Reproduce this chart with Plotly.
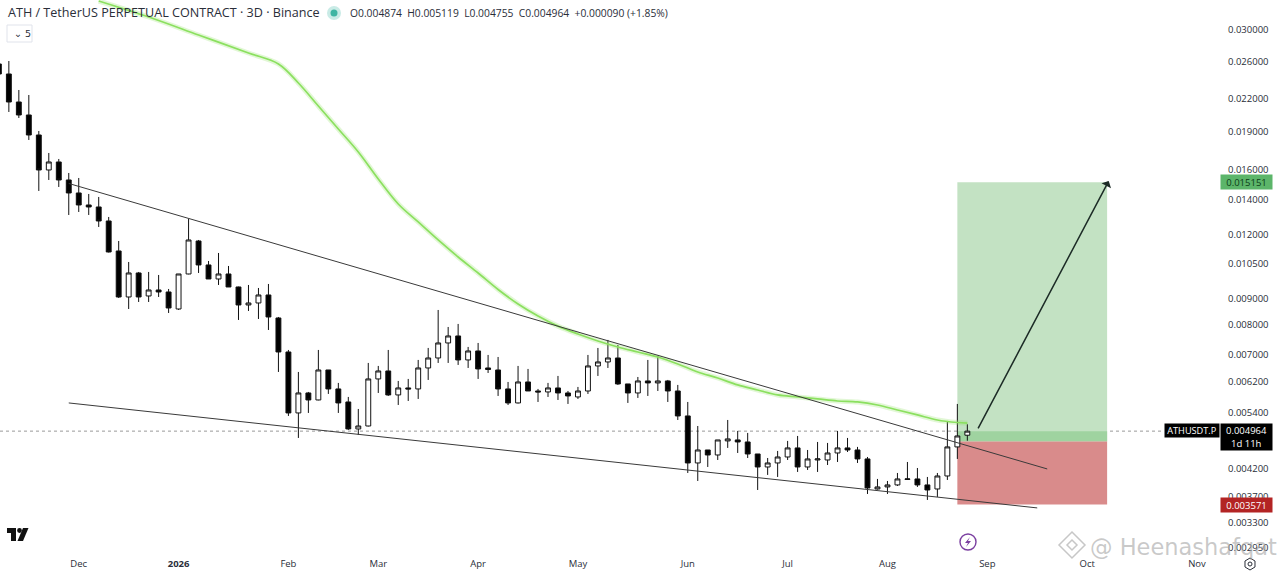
import math

import pandas as pd
import plotly.graph_objects as go

# 3D candles
dates = pd.date_range('2025-11-08', periods=98, freq='3D')

opens = [
    .025758, .024628, .021722, .020492, .018734, .016013, .016598, .015311, .014444, .013688,
    .013565, .012740, .011136, .009060, .010090, .009101, .009349, .009266, .008585, .010045,
    .011647, .010459, .009822, .010045, .009476, .008741, .008820, .009142, .008246, .007080,
    .005386, .005891, .005709, .006531, .005998, .005658, .005013, .005080, .006273, .006502,
    .005839, .006025, .005998, .006590, .006892, .007372, .007607, .006831, .007112, .006590,
    .006531, .005998, .005633, .006189, .005944, .005918, .006025, .005891, .005787, .005944,
    .006650, .006770, .006892, .006134, .005891, .006217, .006162, .006217, .005944, .005314,
    .004304, .004562, .004461, .004751, .004772, .004729, .004481, .004227, .004304, .004421,
    .004604, .004227, .004362, .004362, .004501, .004604, .004562, .004382, .003830, .003865,
    .003900, .003997, .004006, .003900, .003830, .004060, .004625, .004874,
]
highs = [
    .026224, .026107, .022923, .022415, .019073, .017282, .016823, .015799, .015449, .014380,
    .014188, .012970, .011647, .010600, .010136, .010136, .010000, .009391, .010045, .012855,
    .011699, .010648, .011037, .010412, .009490, .009561, .009433, .009604, .008283, .007144,
    .006473, .005918, .007144, .006531, .006162, .005787, .005483, .006740, .006650, .007144,
    .006217, .006273, .006831, .007209, .008547, .007920, .008028, .007241, .007372, .006986,
    .006923, .006189, .006650, .006561, .005998, .006162, .006358, .005944, .006052, .006986,
    .007209, .007472, .007306, .006134, .006329, .006831, .006954, .006245, .006107, .005658,
    .005080, .004562, .004772, .005219, .004969, .004924, .004481, .004401, .004542, .004751,
    .004858, .004562, .004729, .004708, .004969, .004815, .004625, .004421, .004006, .003970,
    .004115, .004323, .004208, .004042, .004115, .005196, .005608, .005119,
]
lows = [
    .024409, .020770, .020218, .018319, .014575, .015311, .014838, .013087, .013264, .013087,
    .012402, .011060, .009020, .008585, .008859, .008859, .009060, .008433, .008547, .010030,
    .010090, .009822, .009561, .009476, .008173, .008509, .008209, .007814, .006473, .005314,
    .004815, .005386, .005700, .005865, .005386, .004991, .004880, .005070, .005891, .005813,
    .005582, .005683, .005735, .006245, .006740, .006740, .006680, .006590, .006273, .006444,
    .005813, .005582, .005620, .005944, .005658, .005787, .005709, .005608, .005735, .005865,
    .006358, .006590, .006107, .005633, .005761, .005813, .005944, .005658, .005219, .004115,
    .003970, .004227, .004362, .004604, .004501, .004401, .003813, .004079, .004042, .004362,
    .004134, .004171, .004134, .004265, .004323, .004521, .004304, .003745, .003820, .003745,
    .003882, .003988, .003865, .003646, .003695, .003988, .004382, .004755,
]
closes = [
    .024628, .021722, .020492, .018734, .016013, .016598, .015311, .014444, .013688, .013565,
    .012740, .011086, .009060, .010090, .009060, .009349, .009266, .008624, .010045, .011699,
    .010459, .009822, .010045, .009476, .008741, .008820, .009142, .008283, .007080, .005386,
    .005891, .005709, .006531, .005998, .005633, .005013, .005080, .006273, .006502, .005839,
    .006025, .005998, .006590, .006892, .007372, .007607, .006831, .007112, .006561, .006545,
    .005998, .005633, .006189, .005944, .005918, .006025, .005891, .005813, .005944, .006650,
    .006770, .006892, .006134, .005891, .006217, .006162, .006217, .005944, .005314, .004304,
    .004562, .004461, .004772, .004794, .004729, .004481, .004227, .004304, .004421, .004604,
    .004227, .004382, .004382, .004501, .004604, .004562, .004382, .003847, .003865, .003900,
    .004006, .004006, .003900, .003813, .004060, .004625, .004858, .004964,
]

# green moving average, sampled every couple of bars
ema_bars = [10, 15, 20, 25, 28, 30, 32, 34, 36, 38, 40, 42, 44, 46, 48, 50, 52, 54, 56, 58, 60, 62,
            64, 66, 68, 70, 72, 74, 76, 78, 80, 82, 84, 86, 88, 90, 92, 94, 96, 97]
ema_values = [.034167, .031800, .029335, .027061, .025758, .023654, .021336, .019245, .017360, .015380,
              .013749, .012683, .011699, .010840, .010090, .009370, .008780, .008320, .007950, .007675,
              .007439, .007241, .007080, .006923, .006710, .006473, .006301, .006107, .005971, .005839,
              .005787, .005735, .005683, .005658, .005582, .005459, .005338, .005219, .005160, .005145]

# drawn trend lines
upper_x = ['2025-11-29', '2026-09-19']
upper_y = [.015073, .004190]
lower_x = ['2025-11-29', '2026-09-16']
lower_y = [.005633, .003518]

# long position tool
box_x = ['2026-08-23', '2026-10-07']
target = .015151
entry = .004740
stop = .003571
last_price = .004964
arrow_x = ['2026-08-29', '2026-10-07 12:00']
arrow_y = [.004991, .015243]

price_ticks = [.030, .026, .022, .019, .016, .014, .012, .0105, .009, .008, .007,
               .0062, .0054, .0042, .0037, .0033, .00295]
date_ticks = ['2025-12-02', '2026-01-01', '2026-02-03', '2026-03-02', '2026-04-01', '2026-05-01',
              '2026-06-03', '2026-07-03', '2026-08-02', '2026-09-01', '2026-10-01', '2026-11-03']
date_labels = ['Dec', '<b>2026</b>', 'Feb', 'Mar', 'Apr', 'May', 'Jun', 'Jul', 'Aug', 'Sep', 'Oct', 'Nov']

W = 1280
H = 572
PLOT_W = 1215
PLOT_H = 552
FONT = 'Open Sans'
TEXT = '#2a2e39'


def px(x):
    return x / PLOT_W


def py(y):
    return 1 - y / PLOT_H


def path(points):
    return 'M ' + ' L '.join('%.5f,%.5f' % (px(x), py(y)) for x, y in points) + ' Z'


def paper_shape(kind, **kw):
    return dict(type=kind, xref='paper', yref='paper', **kw)


def circle(x, y, r, **kw):
    return paper_shape('circle', x0=px(x - r), x1=px(x + r), y0=py(y - r), y1=py(y + r), **kw)


def label(x, y, text, size=10, color=TEXT, **kw):
    return dict(xref='paper', yref='paper', x=px(x), y=py(y), text=text, showarrow=False,
                xanchor=kw.pop('xanchor', 'left'), yanchor='middle',
                font=dict(family=kw.pop('family', FONT), size=size, color=color), **kw)


def badge(x, y, w, h, text, bg, color):
    return label(x, y, text, size=9.5, color=color, bgcolor=bg, width=w, height=h,
                 align='center', borderpad=0)


fig = go.Figure()

fig.add_trace(go.Scatter(x=[dates[i] for i in ema_bars], y=ema_values, mode='lines',
                         line=dict(color='rgba(140,225,90,0.25)', width=5, shape='spline'),
                         hoverinfo='skip'))
fig.add_trace(go.Scatter(x=[dates[i] for i in ema_bars], y=ema_values, mode='lines',
                         line=dict(color='#8be05f', width=1.7, shape='spline'),
                         hoverinfo='skip'))
fig.add_trace(go.Scatter(x=upper_x, y=upper_y, mode='lines', line=dict(color='#3a3a3a', width=1)))
fig.add_trace(go.Scatter(x=lower_x, y=lower_y, mode='lines', line=dict(color='#3a3a3a', width=1)))

fig.add_trace(go.Candlestick(
    x=dates, open=opens, high=highs, low=lows, close=closes,
    increasing=dict(line=dict(color='#111111', width=1), fillcolor='#ffffff'),
    decreasing=dict(line=dict(color='#111111', width=1), fillcolor='#000000'),
))

shapes = [
    dict(type='rect', xref='x', yref='y', x0=box_x[0], x1=box_x[1], y0=entry, y1=target,
         fillcolor='#c3e2c3', line_width=0, layer='below'),
    dict(type='rect', xref='x', yref='y', x0=box_x[0], x1=box_x[1], y0=entry, y1=last_price,
         fillcolor='#9fd3a0', line_width=0, layer='below'),
    dict(type='rect', xref='x', yref='y', x0=box_x[0], x1=box_x[1], y0=stop, y1=entry,
         fillcolor='#d98b8b', line_width=0, layer='below'),
    dict(type='line', xref='paper', yref='y', x0=0, x1=px(1164), y0=last_price, y1=last_price,
         line=dict(color='#9a9a9a', width=1, dash='dot'), layer='below'),
    # legend status dot
    circle(334, 13, 7, fillcolor='#c9ebe6', line_width=0),
    circle(334, 13, 3.5, fillcolor='#3fb5a3', line_width=0),
    # indicator toggle button
    paper_shape('rect', x0=px(7), x1=px(32), y0=py(25), y1=py(42), line=dict(color='#e0e3eb', width=1)),
    # logo
    paper_shape('path', path=path([(7, 528), (16, 528), (16, 541), (11, 541), (11, 533), (7, 533)]),
                fillcolor='#111111', line_width=0),
    circle(19.5, 530.5, 2.4, fillcolor='#111111', line_width=0),
    paper_shape('path', path=path([(23, 528), (28.5, 528), (23, 541), (17.5, 541)]),
                fillcolor='#111111', line_width=0),
    # bolt icon
    circle(968, 542, 8, line=dict(color='#7b3fa0', width=1.4)),
    paper_shape('path', path=path([(970, 537), (965, 543), (968, 543), (966, 547), (971, 541), (968, 541)]),
                fillcolor='#7b3fa0', line_width=0),
    # settings icon
    paper_shape('path', path=path([(1250, 558), (1255, 561), (1255, 567), (1250, 570), (1245, 567), (1245, 561)]),
                line=dict(color='#2a2e39', width=1)),
    circle(1250, 564, 2, line=dict(color='#2a2e39', width=1)),
    # watermark diamond
    paper_shape('path', path=path([(1072, 532), (1085, 545), (1072, 558), (1059, 545)]),
                line=dict(color='rgba(175,175,175,0.7)', width=1.5)),
    paper_shape('path', path=path([(1072, 540), (1077, 545), (1072, 550), (1067, 545)]),
                line=dict(color='rgba(175,175,175,0.7)', width=1.5)),
]

annotations = [
    label(6, 13, 'ATH / TetherUS PERPETUAL CONTRACT · 3D · Binance', size=12.6),
    label(348, 13, 'O0.004874  H0.005119  L0.004755  C0.004964  +0.000090 (+1.85%)', size=10.3),
    label(12, 33.5, '⌄ 5', size=9.5, family='DejaVu Sans'),
    dict(xref='x', yref='y', axref='x', ayref='y',
         x=arrow_x[1], y=math.log10(arrow_y[1]), ax=arrow_x[0], ay=math.log10(arrow_y[0]),
         text='', showarrow=True, arrowhead=1, arrowsize=1.2, arrowwidth=1.5, arrowcolor='#1c2b26'),
    label(1164, 430.5, 'ATHUSDT.P', size=9.2, color='#ffffff', bgcolor='#000000', width=54, height=13,
          align='center', borderpad=0),
    badge(1220, 436.5, 51, 26, '0.004964<br>1d 11h', '#000000', '#ffffff'),
    badge(1220, 182, 51, 14, '0.015151', '#5cb56a', '#0c3d18'),
    badge(1220, 505, 51, 14, '0.003571', '#b32424', '#ffffff'),
    label(1088, 547, '@ Heenashafqat', size=22.5, color='rgba(165,165,165,0.6)', family='DejaVu Sans'),
]

fig.update_layout(
    width=W, height=H,
    margin=dict(l=0, r=W - PLOT_W, t=0, b=H - PLOT_H, pad=0),
    paper_bgcolor='#ffffff', plot_bgcolor='#ffffff',
    showlegend=False, hovermode=False,
    shapes=shapes, annotations=annotations,
    xaxis=dict(type='date', range=['2025-11-08 08:10', '2026-11-08 10:00'],
               rangeslider_visible=False, showgrid=False, zeroline=False, showline=False,
               tickmode='array', tickvals=date_ticks, ticktext=date_labels, ticks='',
               ticklabelstandoff=4, tickfont=dict(family=FONT, size=9.5, color=TEXT)),
    yaxis=dict(type='log', side='right', range=[math.log10(.002887), math.log10(.034319)],
               showgrid=False, zeroline=False, showline=False, ticks='',
               tickmode='array', tickvals=price_ticks, ticktext=['%.6f' % p for p in price_ticks],
               ticklabelstandoff=12, tickfont=dict(family=FONT, size=9.5, color=TEXT)),
)

# the page body has a default margin, drop it so the figure fills the window
fig.write_html("out.html", config={'displayModeBar': False},
               post_script="document.body.style.margin = '0';")
